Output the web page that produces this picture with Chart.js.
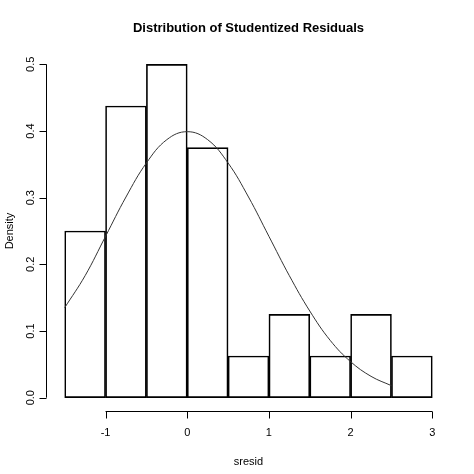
<!DOCTYPE html>
<html>
<head>
<script src="https://cdn.jsdelivr.net/npm/chart.js@4"></script>
<style>
  body { margin: 0; background: #fff; }
  #wrap { width: 474px; height: 474px; }
</style>
</head>
<body>
<div id="wrap"><canvas id="chart"></canvas></div>
<script>
// histogram bins (centers) and densities
const binCenters = [-1.25, -0.75, -0.25, 0.25, 0.75, 1.25, 1.75, 2.25, 2.75];
const densities = [0.25, 0.4375, 0.5, 0.375, 0.0625, 0.125, 0.0625, 0.125, 0.0625];
// curve
const curveX = [-1.5, -1.25, -1, -0.75, -0.5, -0.25, 0, 0.25, 0.5, 0.75, 1, 1.25, 1.5, 1.75, 2, 2.25, 2.5];
const curveY = [0.135, 0.183, 0.242, 0.301, 0.352, 0.387, 0.399, 0.387, 0.352, 0.301, 0.242, 0.183, 0.130, 0.086, 0.054, 0.032, 0.018];
const xTicks = [-1, 0, 1, 2, 3];
const yTicks = [0, 0.1, 0.2, 0.3, 0.4, 0.5];

const font = "Liberation Sans, Arial, sans-serif";

const rAxes = {
  id: "rAxes",
  afterDraw(chart) {
    const ctx = chart.ctx;
    const xs = chart.scales.x, ys = chart.scales.y;
    const area = chart.chartArea;
    ctx.save();
    ctx.strokeStyle = "#000";
    ctx.fillStyle = "#000";
    ctx.lineWidth = 1;
    // x axis
    const ay = area.bottom + 0.5;
    ctx.beginPath();
    ctx.moveTo(xs.getPixelForValue(xTicks[0]), ay);
    ctx.lineTo(xs.getPixelForValue(xTicks[xTicks.length - 1]), ay);
    xTicks.forEach(t => {
      const px = Math.round(xs.getPixelForValue(t)) + 0.5;
      ctx.moveTo(px, ay);
      ctx.lineTo(px, ay + 7);
    });
    ctx.stroke();
    ctx.font = "11px " + font;
    ctx.textAlign = "center";
    ctx.textBaseline = "middle";
    xTicks.forEach(t => ctx.fillText(String(t), xs.getPixelForValue(t), ay + 21));
    ctx.fillText("sresid", (area.left + area.right) / 2, ay + 50);
    // y axis
    const ax = area.left - 3.5;
    ctx.beginPath();
    ctx.moveTo(ax, ys.getPixelForValue(yTicks[0]));
    ctx.lineTo(ax, ys.getPixelForValue(yTicks[yTicks.length - 1]));
    yTicks.forEach(t => {
      const py = Math.round(ys.getPixelForValue(t)) + 0.5;
      ctx.moveTo(ax, py);
      ctx.lineTo(ax - 7, py);
    });
    ctx.stroke();
    yTicks.forEach(t => {
      ctx.save();
      ctx.translate(ax - 16, ys.getPixelForValue(t));
      ctx.rotate(-Math.PI / 2);
      ctx.fillText(String(t === 0 ? "0.0" : t), 0, 0);
      ctx.restore();
    });
    ctx.save();
    ctx.translate(10, (area.top + area.bottom) / 2);
    ctx.rotate(-Math.PI / 2);
    ctx.fillText("Density", 0, 0);
    ctx.restore();
    // title
    ctx.font = "bold 13px " + font;
    ctx.fillText("Distribution of Studentized Residuals", (area.left + area.right) / 2, 28);
    ctx.restore();
  }
};

new Chart(document.getElementById("chart"), {
  data: {
    datasets: [
      {
        type: "bar",
        data: binCenters.map((x, i) => ({ x: x, y: densities[i] })),
        backgroundColor: "rgba(0,0,0,0)",
        borderColor: "#000",
        borderWidth: 1,
        borderSkipped: false,
        barPercentage: 1,
        categoryPercentage: 1,
        order: 2
      },
      {
        type: "line",
        data: curveX.map((x, i) => ({ x: x, y: curveY[i] })),
        borderColor: "#333",
        borderWidth: 1,
        pointRadius: 0,
        tension: 0.4,
        fill: false,
        order: 1
      }
    ]
  },
  options: {
    responsive: true,
    maintainAspectRatio: false,
    animation: false,
    layout: { padding: { left: 50, right: 27, top: 51, bottom: 63 } },
    plugins: { legend: { display: false }, tooltip: { enabled: false } },
    scales: {
      x: { type: "linear", min: -1.68, max: 3.18, offset: false, display: false },
      y: { type: "linear", min: -0.02, max: 0.52, display: false }
    }
  },
  plugins: [rAxes]
});
</script>
</body>
</html>
